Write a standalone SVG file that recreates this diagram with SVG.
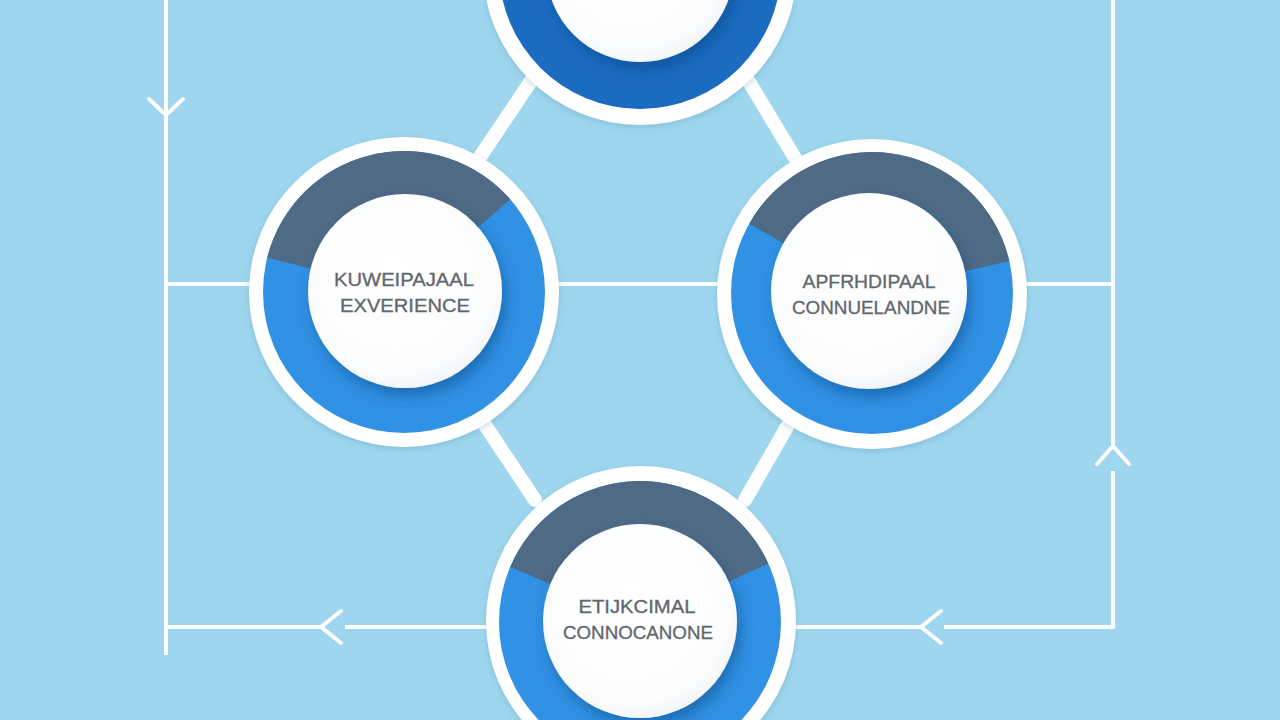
<svg xmlns="http://www.w3.org/2000/svg" width="1280" height="720" viewBox="0 0 1280 720">
  <defs>
    <style>
      .thin { stroke: #ffffff; stroke-width: 4; fill: none; stroke-linecap: square; }
      .chev { stroke: #ffffff; stroke-width: 4; fill: none; stroke-linecap: round; stroke-linejoin: round; }
      .thick { stroke: #ffffff; stroke-width: 14; fill: none; stroke-linecap: round; }
      .rim { fill: #ffffff; filter: url(#rimShadow); }
      .ring { fill: #3191e4; }
      .dark { fill: #4f6a85; }
      .core { fill: url(#coreGrad); filter: url(#coreShadow); }
      .label { font-family: "Liberation Sans", Arial, sans-serif; font-size: 18px; fill: #62666d; text-anchor: middle; stroke: #62666d; stroke-width: 0.3; }
    </style>
    <radialGradient id="coreGrad" cx="0.45" cy="0.4" r="0.65">
      <stop offset="0" stop-color="#ffffff"/>
      <stop offset="0.8" stop-color="#fbfcfd"/>
      <stop offset="1" stop-color="#eef1f4"/>
    </radialGradient>
    <filter id="coreShadow" x="-30%" y="-30%" width="160%" height="160%">
      <feDropShadow dx="4" dy="8" stdDeviation="7" flood-color="#0a3f7c" flood-opacity="0.45"/>
    </filter>
    <filter id="rimShadow" x="-20%" y="-20%" width="140%" height="140%">
      <feDropShadow dx="0" dy="2" stdDeviation="3" flood-color="#5b8fb0" flood-opacity="0.35"/>
    </filter>
  </defs>

  <rect x="0" y="0" width="1280" height="720" fill="#9dd6ee"/>

  <g id="connectors">
    <line class="thin" x1="166" y1="0" x2="166" y2="653"/>
    <path class="chev" d="M149,99 L166,115 L183,99"/>
    <line class="thin" x1="166" y1="284" x2="252" y2="284"/>
    <line class="thin" x1="556" y1="284" x2="720" y2="284"/>
    <line class="thin" x1="1026" y1="284" x2="1113" y2="284"/>
    <line class="thin" x1="1113" y1="0" x2="1113" y2="445"/>
    <path class="chev" d="M1097,464 L1113,446 L1129,464"/>
    <line class="thin" x1="1113" y1="473" x2="1113" y2="627"/>
    <line class="thin" x1="166" y1="627" x2="320" y2="627"/>
    <path class="chev" d="M341,611 L321,627 L341,643"/>
    <line class="thin" x1="347" y1="627" x2="492" y2="627"/>
    <line class="thin" x1="790" y1="627" x2="920" y2="627"/>
    <path class="chev" d="M941,611 L921,627 L941,643"/>
    <line class="thin" x1="946" y1="627" x2="1113" y2="627"/>
    <line class="thick" x1="535" y1="75" x2="478" y2="160"/>
    <line class="thick" x1="745" y1="75" x2="795" y2="158"/>
    <line class="thick" x1="485" y1="425" x2="535" y2="500"/>
    <line class="thick" x1="788" y1="425" x2="745" y2="500"/>
  </g>

  <g id="node-top">
    <circle class="rim" cx="640" cy="-32" r="157"/>
    <circle cx="640" cy="-32" r="141" fill="#1b6bc1"/>
    <circle class="core" cx="640" cy="-32" r="94"/>
  </g>

  <g id="node-left">
    <circle class="rim" cx="404" cy="292" r="155"/>
    <circle class="ring" cx="404" cy="292" r="141"/>
    <path class="dark" d="M404,292 L267.2,257.6 A141,141 0 0,1 510.2,199.3 Z"/>
    <circle class="core" cx="405" cy="291" r="97"/>
    <text class="label" x="404" y="286" textLength="140" lengthAdjust="spacingAndGlyphs">KUWEIPAJAAL</text>
    <text class="label" x="405" y="312" textLength="130" lengthAdjust="spacingAndGlyphs">EXVERIENCE</text>
  </g>

  <g id="node-right">
    <circle class="rim" cx="872" cy="294" r="155"/>
    <circle class="ring" cx="872" cy="293" r="141"/>
    <path class="dark" d="M872,293 L749.2,223.7 A141,141 0 0,1 1009.3,261 Z"/>
    <circle class="core" cx="869" cy="291" r="98"/>
    <text class="label" x="869" y="288" textLength="133" lengthAdjust="spacingAndGlyphs">APFRHDIPAAL</text>
    <text class="label" x="871" y="314" textLength="158" lengthAdjust="spacingAndGlyphs">CONNUELANDNE</text>
  </g>

  <g id="node-bottom">
    <circle class="rim" cx="641" cy="621" r="155"/>
    <circle class="ring" cx="640" cy="622" r="141"/>
    <path class="dark" d="M640,622 L510.2,567.1 A141,141 0 0,1 768.3,563.5 Z"/>
    <circle class="core" cx="640" cy="621" r="97"/>
    <text class="label" x="637" y="613" textLength="117" lengthAdjust="spacingAndGlyphs">ETIJKCIMAL</text>
    <text class="label" x="638" y="639" textLength="150" lengthAdjust="spacingAndGlyphs">CONNOCANONE</text>
  </g>
</svg>
